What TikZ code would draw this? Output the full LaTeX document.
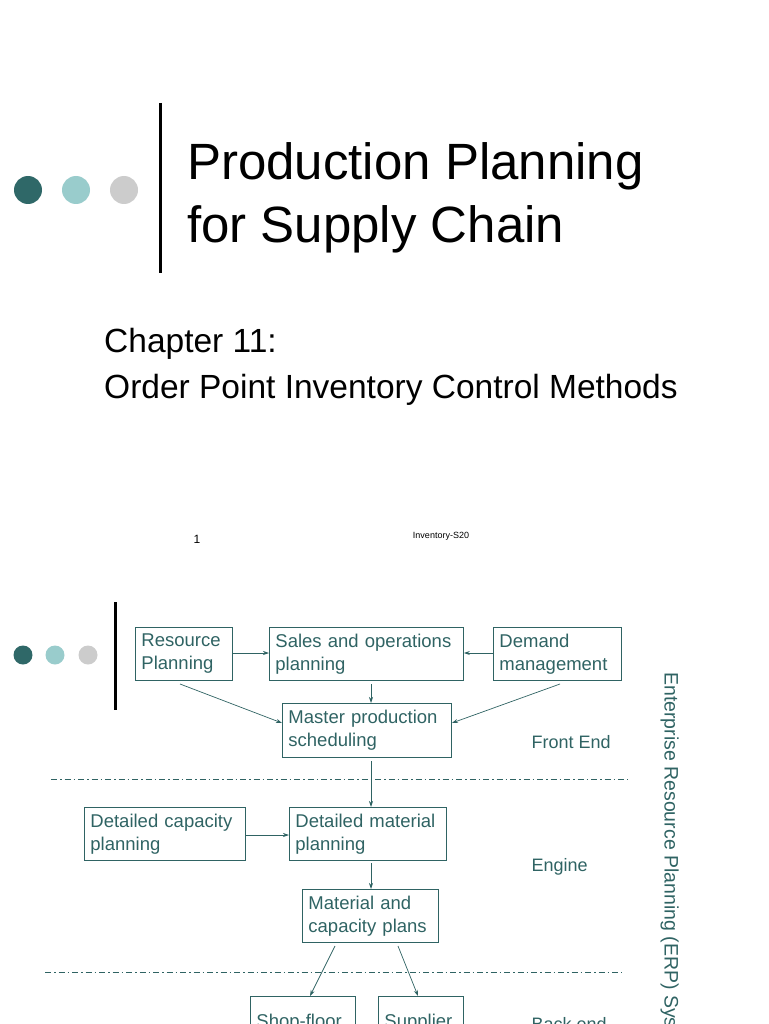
\documentclass[tikz,border=0pt]{standalone}
\usepackage{fontspec}
\setmainfont{Liberation Sans}
\usetikzlibrary{arrows.meta}
\definecolor{tealtxt}{HTML}{2F6363}
\definecolor{dot1}{HTML}{2F6868}
\definecolor{dot2}{HTML}{99CCCC}
\definecolor{dot3}{HTML}{CCCCCC}
\tikzset{
 bx/.style={draw=tealtxt,line width=0.9pt,text=tealtxt,anchor=north west,align=left,inner xsep=6pt,inner ysep=0pt,font=\fontsize{18.5}{23}\selectfont},
 arr/.style={draw=tealtxt,line width=0.7pt,-{Stealth[length=6pt,width=4pt]}},
 sep/.style={draw=tealtxt,line width=0.8pt,dash pattern=on 6pt off 3pt on 1.5pt off 3pt},
 lbl/.style={text=tealtxt,font=\fontsize{18}{20}\selectfont,anchor=west}
}
\begin{document}
\begin{tikzpicture}[x=1pt,y=-1pt]
\useasboundingbox (0,0) rectangle (768,1024);
\clip (0,0) rectangle (768,1024);
% top slide
\fill[dot1] (28,190) circle (14);
\fill[dot2] (76,190) circle (14);
\fill[dot3] (124,190) circle (14);
\draw[line width=3pt] (160,103) -- (160,273);
\node[anchor=base west,inner sep=0pt,font=\fontsize{51}{55}\selectfont] (t1) at (187,180) {Production Planning};
\node[anchor=base west,inner sep=0pt,font=\fontsize{51}{55}\selectfont] (t2) at (187,242) {for Supply Chain};
\node[anchor=base west,inner sep=0pt,font=\fontsize{33.5}{36}\selectfont] (c1) at (104,352) {Chapter 11:};
\node[anchor=base west,inner sep=0pt,font=\fontsize{33.5}{36}\selectfont] (c2) at (104,398) {Order Point Inventory Control Methods};
\node[anchor=base,inner sep=0pt,font=\fontsize{12}{14}\selectfont] (pg) at (197,543) {1};
\node[anchor=base,inner sep=0pt,font=\fontsize{9}{11}\selectfont] (inv) at (441,538) {Inventory-S20};
% bottom slide
\fill[dot1] (23,655) circle (9.5);
\fill[dot2] (55,655) circle (9.5);
\fill[dot3] (88,655) circle (9.5);
\draw[line width=3pt] (115,602) -- (115,710);
\node[bx,minimum width=97pt,minimum height=53pt,text width=85pt] (rp) at (135,627) {Resource\\Planning};
\node[bx,minimum width=194pt,minimum height=53pt,text width=182pt] (sop) at (269,627) {Sales and operations\\planning};
\node[bx,minimum width=128pt,minimum height=53pt,text width=116pt] (dm) at (493,627) {Demand\\management};
\node[bx,minimum width=169pt,minimum height=54pt,text width=157pt] (mps) at (282,703) {Master production\\scheduling};
\node[bx,minimum width=161pt,minimum height=53pt,text width=149pt] (dcp) at (84,807) {Detailed capacity\\planning};
\node[bx,minimum width=157pt,minimum height=53pt,text width=145pt] (dmp) at (289,807) {Detailed material\\planning};
\node[bx,minimum width=136pt,minimum height=53pt,text width=124pt] (mcp) at (302,889) {Material and\\capacity plans};
\node[bx,minimum width=105pt,minimum height=53pt,text width=93pt] (sf) at (250,996) {Shop-floor\\};
\node[bx,minimum width=85pt,minimum height=53pt,text width=73pt] (sup) at (378,996) {Supplier\\};
\draw[sep] (51,779) -- (628,779);
\draw[sep] (45,972) -- (622,972);
\node[lbl] (fe) at (528,742) {Front End};
\node[lbl] (en) at (528,867) {Engine};
\node[lbl] (be) at (528,1024) {Back end};
\node[text=tealtxt,font=\fontsize{19.5}{22}\selectfont,rotate=-90,anchor=north west,inner sep=0pt] (erp) at (679,672) {Enterprise Resource Planning (ERP) System};
% connectors
\draw[arr] (rp.east |- 0,653) -- (sop.west |- 0,653);
\draw[arr] (dm.west |- 0,653) -- (sop.east |- 0,653);
\draw[arr] (371,684) -- (mps.north -| 371,0);
\draw[arr] (180,684) -- (mps.west |- 0,723);
\draw[arr] (560,684) -- (mps.east |- 0,723);
\draw[arr] (371,761) -- (dmp.north -| 371,0);
\draw[arr] (dcp.east |- 0,835) -- (dmp.west |- 0,835);
\draw[arr] (371,863) -- (mcp.north -| 371,0);
\draw[arr] (335,946) -- (sf.north -| 310,0);
\draw[arr] (398,946) -- (sup.north -| 418,0);
\end{tikzpicture}
\end{document}
